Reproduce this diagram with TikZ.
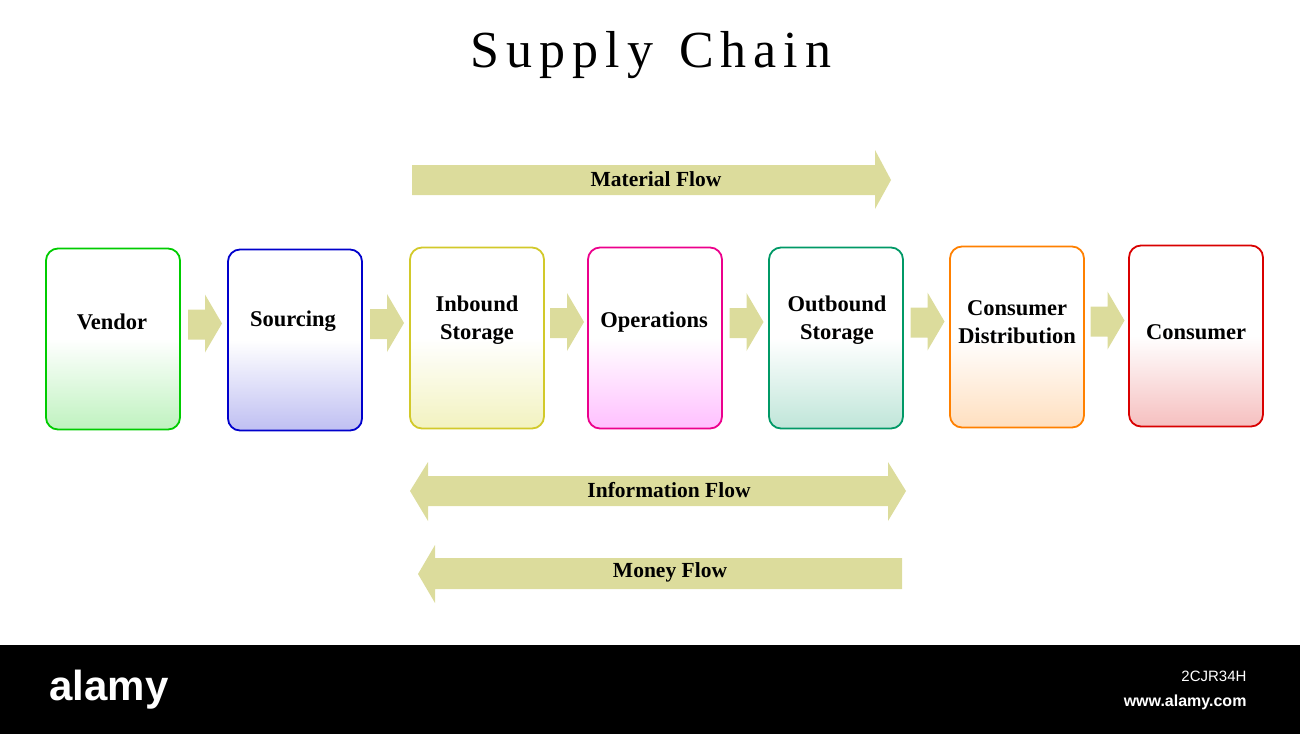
\documentclass[tikz,border=0pt]{standalone}
\usepackage{fontspec}
\setmainfont{Liberation Serif}
\newfontfamily\wsans{Liberation Sans}
\definecolor{arr}{HTML}{DCDC9C}
\tikzset{
  box/.style={draw=#1, line width=1.8pt, rounded corners=12pt, minimum width=134pt, minimum height=181pt, top color=white, bottom color=#1!25, middle color=white},
  btxt/.style={align=center, font=\bfseries\fontsize{22.5}{28}\selectfont},
  lbl/.style={font=\bfseries\fontsize{21.5}{24}\selectfont}
}
\begin{document}
\begin{tikzpicture}[x=1pt,y=-1pt]
\useasboundingbox (0,0) rectangle (1300,734);
\node[font=\fontsize{52}{56}\selectfont] (title) at (651,55) {S\hspace{7pt}u\hspace{7pt}p\hspace{7pt}p\hspace{7pt}l\hspace{7pt}y\hspace{26pt}C\hspace{7pt}h\hspace{7pt}a\hspace{7pt}i\hspace{7pt}n};
\node[box=green!80!black] (v) at (113,339) {};
\node[box=blue!80!black] (s) at (295,340) {};
\node[box=yellow!80!black] (i) at (477,338) {};
\node[box=magenta] (o) at (655,338) {};
\node[box=teal!80!green] (ob) at (836,338) {};
\node[box=orange] (cd) at (1017,337) {};
\node[box=red!85!black] (c) at (1196,336) {};
\node[btxt] (tv) at (112,322) {Vendor};
\node[btxt] (ts) at (293,321) {Sourcing};
\node[btxt] (ti) at (477,320) {Inbound\\Storage};
\node[btxt] (to) at (654,322) {Operations};
\node[btxt] (tob) at (837,320) {Outbound\\Storage};
\node[btxt] (tcd) at (1017,322) {Consumer\\Distribution};
\node[btxt] (tc) at (1196,332) {Consumer};
\foreach \a/\b in {v/s,s/i,i/o,o/ob,ob/cd,cd/c}{
  \path (\a.east) -- (\b.west) coordinate[pos=0.5] (m\a);
  \fill[arr] ([xshift=-16,yshift=30]m\a) -- ([xshift=1,yshift=30]m\a) -- ([xshift=1,yshift=45]m\a) -- ([xshift=18,yshift=16]m\a) -- ([xshift=1,yshift=-13]m\a) -- ([xshift=1,yshift=0]m\a) -- ([xshift=-16,yshift=0]m\a) -- cycle;
}
\fill[arr] (412,165) -- (875,165) -- (875,150) -- (891,180) -- (875,209) -- (875,195) -- (412,195) -- cycle;
\node[lbl] (mf) at (656,179) {Material Flow};
\fill[arr] (410,491) -- (428,462) -- (428,476) -- (888,476) -- (888,462) -- (906,491) -- (888,521) -- (888,506) -- (428,506) -- (428,521) -- cycle;
\node[lbl] (if) at (669,490) {Information Flow};
\fill[arr] (418,574) -- (435,545) -- (435,558) -- (902,558) -- (902,589) -- (435,589) -- (435,603) -- cycle;
\node[lbl] (mo) at (670,572) {Money Flow};
\fill[black] (0,645) rectangle (1300,734);
\node[white, font=\wsans\bfseries\fontsize{42}{44}\selectfont, anchor=west] (al) at (46,690) {alamy};
\node[white, font=\wsans\fontsize{15}{17}\selectfont, anchor=east] (id) at (1250,676) {2CJR34H};
\node[white, font=\wsans\bfseries\fontsize{16}{18}\selectfont, anchor=east] (www) at (1250,702) {www.alamy.com};
\end{tikzpicture}
\end{document}
